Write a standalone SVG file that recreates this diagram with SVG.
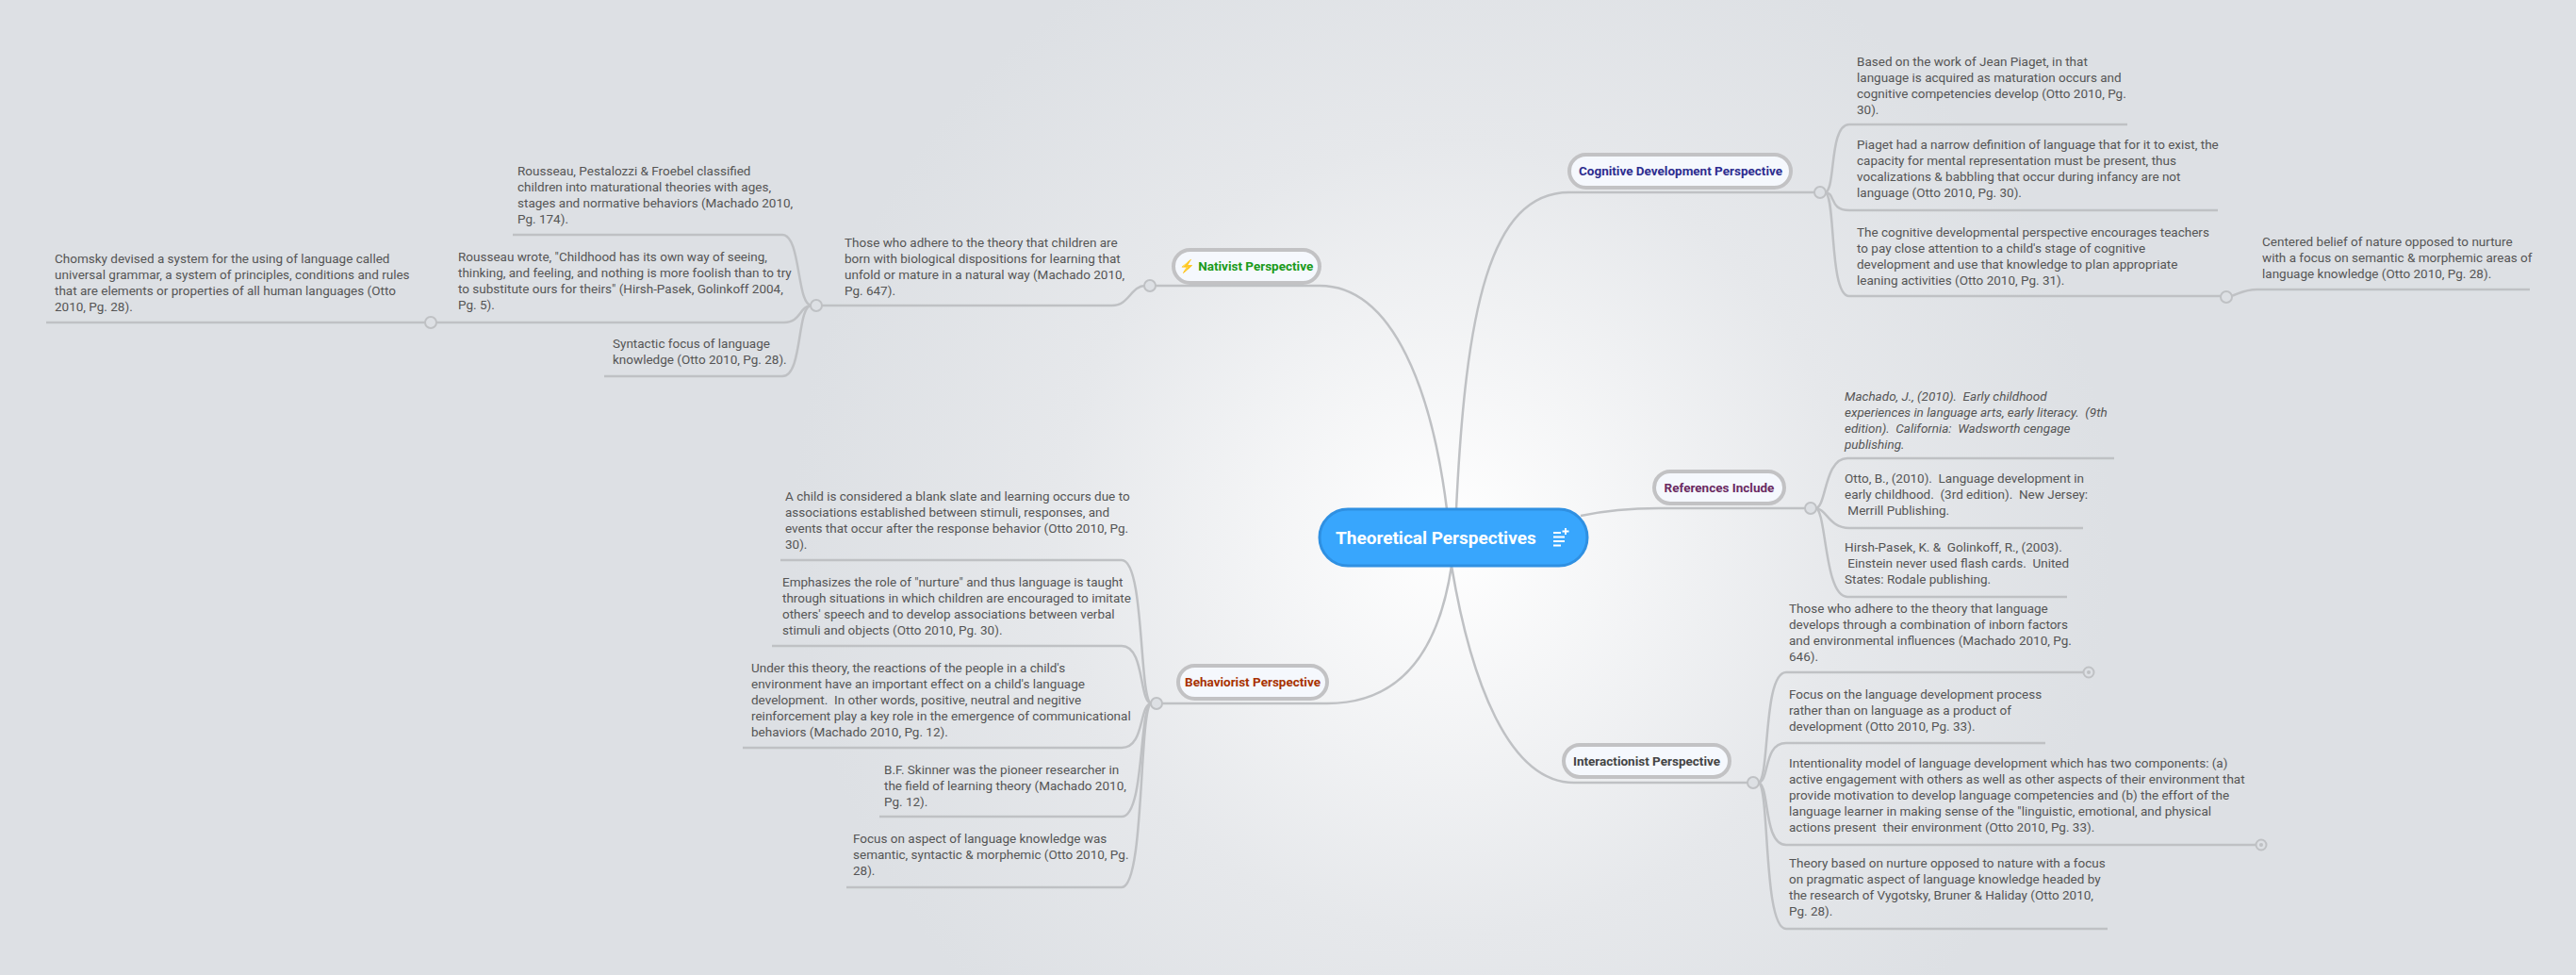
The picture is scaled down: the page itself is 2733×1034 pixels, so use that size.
<svg xmlns="http://www.w3.org/2000/svg" width="2733" height="1034" viewBox="0 0 2733 1034">
<defs>
<radialGradient id="bg" cx="1540" cy="570" r="700" gradientUnits="userSpaceOnUse">
<stop offset="0" stop-color="#ffffff"/><stop offset="0.6" stop-color="#e6e8eb"/><stop offset="1" stop-color="#dde0e4"/>
</radialGradient>
<style>
.c{fill:none;stroke:#bfc1c4;stroke-width:2.5}
.j{fill:#dde0e4;stroke:#bfc1c4;stroke-width:2}
.n{fill:#f5f8fd;stroke:#c2c2c4;stroke-width:4}
.nl{font-family:Roboto,"Liberation Sans",sans-serif;font-size:13.5px;font-weight:bold;text-anchor:middle}
.t{font-family:Roboto,"Liberation Sans",sans-serif;font-size:13.5px;fill:#555;white-space:pre}
.i{font-style:italic}
</style>
</defs>
<rect width="2733" height="1034" fill="#dde0e4"/>
<rect width="2733" height="1034" fill="url(#bg)"/>
<g id="connectors">
<path class="c" d="M1535,540 C1520,420 1480,303 1400,303 L1225,303"/>
<path class="c" d="M1215,303 C1200,303 1198,324 1180,324 L871,324"/>
<path class="c" d="M861,324 C845,324 850,249 830,249 L544,249"/>
<path class="c" d="M861,324 C848,324 850,342 832,342 L462,342"/>
<path class="c" d="M861,324 C845,324 852,399 830,399 L641,399"/>
<path class="c" d="M452,342 L49,342"/>
<path class="c" d="M1540,600 C1525,700 1480,746 1408,746 L1232,746"/>
<path class="c" d="M1222,746 C1208,746 1215,594 1190,594 L828,594"/>
<path class="c" d="M1222,746 C1208,746 1215,685 1190,685 L819,685"/>
<path class="c" d="M1222,746 C1208,746 1215,793 1190,793 L788,793"/>
<path class="c" d="M1222,746 C1208,746 1215,866 1190,866 L933,866"/>
<path class="c" d="M1222,746 C1208,746 1215,941 1190,941 L898,941"/>
<path class="c" d="M1545,540 C1555,330 1580,204 1665,204 L1926,204"/>
<path class="c" d="M1936,204 C1948,204 1940,132 1962,132 L2257,132"/>
<path class="c" d="M1936,204 C1948,204 1940,223 1962,223 L2353,223"/>
<path class="c" d="M1936,204 C1948,204 1940,314 1962,314 L2357,314"/>
<path class="c" d="M2367,314 C2375,312 2380,307 2395,307 L2684,307"/>
<path class="c" d="M1677,547 C1710,540 1740,539 1760,539 L1916,539"/>
<path class="c" d="M1926,539 C1938,539 1935,486 1960,486 L2243,486"/>
<path class="c" d="M1926,539 C1938,539 1940,560 1962,560 L2210,560"/>
<path class="c" d="M1926,539 C1938,539 1935,633 1960,633 L2193,633"/>
<path class="c" d="M1540,600 C1560,720 1600,830 1670,830 L1855,830"/>
<path class="c" d="M1865,830 C1878,830 1870,713 1895,713 L2211,713"/>
<path class="c" d="M1865,830 C1878,830 1870,788 1895,788 L2170,788"/>
<path class="c" d="M1865,830 C1878,830 1870,896 1895,896 L2394,896"/>
<path class="c" d="M1865,830 C1878,830 1870,985 1895,985 L2236,985"/>
<circle class="j" cx="1220" cy="303" r="6"/>
<circle class="j" cx="866" cy="324" r="6"/>
<circle class="j" cx="457" cy="342" r="6"/>
<circle class="j" cx="1227" cy="746" r="6"/>
<circle class="j" cx="1931" cy="204" r="6"/>
<circle class="j" cx="2362" cy="315" r="6"/>
<circle class="j" cx="1921" cy="539" r="6"/>
<circle class="j" cx="1860" cy="830" r="6"/>
<circle class="j" cx="2216" cy="713" r="5.5"/><circle cx="2216" cy="713" r="2" fill="#bfc1c4"/>
<circle class="j" cx="2399" cy="896" r="5.5"/><circle cx="2399" cy="896" r="2" fill="#bfc1c4"/>
</g>
<g id="center">
<rect x="1400" y="540" width="284" height="60" rx="30" fill="#38a6fd" stroke="#2f90e2" stroke-width="3"/>
<text x="1417" y="577" font-family="Roboto,'Liberation Sans',sans-serif" font-size="19" font-weight="bold" fill="#fff">Theoretical Perspectives</text>
<g stroke="#fff" stroke-width="1.8"><path d="M1648,565h8M1648,569.5h12M1648,574h12M1648,578.5h8M1661,560v7M1657.5,563.5h7"/></g>
</g>
<g id="nativist">
<rect class="n" x="1245" y="265" width="155" height="35" rx="17.5"/>
<text class="nl" x="1322" y="287" fill="#1a9a1a"><tspan fill="#f4b740">⚡</tspan> Nativist Perspective</text>
</g>
<g id="nativist-1"><text class="t" x="896"><tspan x="896" y="262">Those who adhere to the theory that children are</tspan><tspan x="896" y="279">born with biological dispositions for learning that</tspan><tspan x="896" y="296">unfold or mature in a natural way (Machado 2010,</tspan><tspan x="896" y="313">Pg. 647).</tspan></text></g>
<g id="nativist-2"><text class="t"><tspan x="549" y="186">Rousseau, Pestalozzi &amp; Froebel classified</tspan><tspan x="549" y="203">children into maturational theories with ages,</tspan><tspan x="549" y="220">stages and normative behaviors (Machado 2010,</tspan><tspan x="549" y="237">Pg. 174).</tspan></text></g>
<g id="nativist-3"><text class="t"><tspan x="486" y="277">Rousseau wrote, "Childhood has its own way of seeing,</tspan><tspan x="486" y="294">thinking, and feeling, and nothing is more foolish than to try</tspan><tspan x="486" y="311">to substitute ours for theirs" (Hirsh-Pasek, Golinkoff 2004,</tspan><tspan x="486" y="328">Pg. 5).</tspan></text></g>
<g id="nativist-4"><text class="t"><tspan x="650" y="369">Syntactic focus of language</tspan><tspan x="650" y="386">knowledge (Otto 2010, Pg. 28).</tspan></text></g>
<g id="nativist-5"><text class="t"><tspan x="58" y="279">Chomsky devised a system for the using of language called</tspan><tspan x="58" y="296">universal grammar, a system of principles, conditions and rules</tspan><tspan x="58" y="313">that are elements or properties of all human languages (Otto</tspan><tspan x="58" y="330">2010, Pg. 28).</tspan></text></g>
<g id="behaviorist">
<rect class="n" x="1250" y="706" width="158" height="35" rx="17.5"/>
<text class="nl" x="1329" y="728" fill="#a83200">Behaviorist Perspective</text>
</g>
<g id="behaviorist-1"><text class="t"><tspan x="833" y="531">A child is considered a blank slate and learning occurs due to</tspan><tspan x="833" y="548">associations established between stimuli, responses, and</tspan><tspan x="833" y="565">events that occur after the response behavior (Otto 2010, Pg.</tspan><tspan x="833" y="582">30).</tspan></text></g>
<g id="behaviorist-2"><text class="t"><tspan x="830" y="622">Emphasizes the role of "nurture" and thus language is taught</tspan><tspan x="830" y="639">through situations in which children are encouraged to imitate</tspan><tspan x="830" y="656">others' speech and to develop associations between verbal</tspan><tspan x="830" y="673">stimuli and objects (Otto 2010, Pg. 30).</tspan></text></g>
<g id="behaviorist-3"><text class="t"><tspan x="797" y="713">Under this theory, the reactions of the people in a child's</tspan><tspan x="797" y="730">environment have an important effect on a child's language</tspan><tspan x="797" y="747">development.  In other words, positive, neutral and negitive</tspan><tspan x="797" y="764">reinforcement play a key role in the emergence of communicational</tspan><tspan x="797" y="781">behaviors (Machado 2010, Pg. 12).</tspan></text></g>
<g id="behaviorist-4"><text class="t"><tspan x="938" y="821">B.F. Skinner was the pioneer researcher in</tspan><tspan x="938" y="838">the field of learning theory (Machado 2010,</tspan><tspan x="938" y="855">Pg. 12).</tspan></text></g>
<g id="behaviorist-5"><text class="t"><tspan x="905" y="894">Focus on aspect of language knowledge was</tspan><tspan x="905" y="911">semantic, syntactic &amp; morphemic (Otto 2010, Pg.</tspan><tspan x="905" y="928">28).</tspan></text></g>
<g id="cognitive">
<rect class="n" x="1665" y="164" width="235" height="35" rx="17.5"/>
<text class="nl" x="1783" y="186" fill="#2d2d8f">Cognitive Development Perspective</text>
</g>
<g id="cognitive-1"><text class="t"><tspan x="1970" y="70">Based on the work of Jean Piaget, in that</tspan><tspan x="1970" y="87">language is acquired as maturation occurs and</tspan><tspan x="1970" y="104">cognitive competencies develop (Otto 2010, Pg.</tspan><tspan x="1970" y="121">30).</tspan></text></g>
<g id="cognitive-2"><text class="t"><tspan x="1970" y="158">Piaget had a narrow definition of language that for it to exist, the</tspan><tspan x="1970" y="175">capacity for mental representation must be present, thus</tspan><tspan x="1970" y="192">vocalizations &amp; babbling that occur during infancy are not</tspan><tspan x="1970" y="209">language (Otto 2010, Pg. 30).</tspan></text></g>
<g id="cognitive-3"><text class="t"><tspan x="1970" y="251">The cognitive developmental perspective encourages teachers</tspan><tspan x="1970" y="268">to pay close attention to a child's stage of cognitive</tspan><tspan x="1970" y="285">development and use that knowledge to plan appropriate</tspan><tspan x="1970" y="302">leaning activities (Otto 2010, Pg. 31).</tspan></text></g>
<g id="cognitive-4"><text class="t"><tspan x="2400" y="261">Centered belief of nature opposed to nurture</tspan><tspan x="2400" y="278">with a focus on semantic &amp; morphemic areas of</tspan><tspan x="2400" y="295">language knowledge (Otto 2010, Pg. 28).</tspan></text></g>
<g id="references">
<rect class="n" x="1755" y="500" width="138" height="34" rx="17"/>
<text class="nl" x="1824" y="522" fill="#6a2a62">References Include</text>
</g>
<g id="references-1"><text class="t i"><tspan x="1957" y="425">Machado, J., (2010).  Early childhood</tspan><tspan x="1957" y="442">experiences in language arts, early literacy.  (9th</tspan><tspan x="1957" y="459">edition).  California:  Wadsworth cengage</tspan><tspan x="1957" y="476">publishing.</tspan></text></g>
<g id="references-2"><text class="t"><tspan x="1957" y="512">Otto, B., (2010).  Language development in</tspan><tspan x="1957" y="529">early childhood.  (3rd edition).  New Jersey:</tspan><tspan x="1957" y="546"> Merrill Publishing.</tspan></text></g>
<g id="references-3"><text class="t"><tspan x="1957" y="585">Hirsh-Pasek, K. &amp;  Golinkoff, R., (2003).</tspan><tspan x="1957" y="602"> Einstein never used flash cards.  United</tspan><tspan x="1957" y="619">States: Rodale publishing.</tspan></text></g>
<g id="interactionist">
<rect class="n" x="1659" y="790" width="176" height="34" rx="17"/>
<text class="nl" x="1747" y="812" fill="#444">Interactionist Perspective</text>
</g>
<g id="interactionist-1"><text class="t"><tspan x="1898" y="650">Those who adhere to the theory that language</tspan><tspan x="1898" y="667">develops through a combination of inborn factors</tspan><tspan x="1898" y="684">and environmental influences (Machado 2010, Pg.</tspan><tspan x="1898" y="701">646).</tspan></text></g>
<g id="interactionist-2"><text class="t"><tspan x="1898" y="741">Focus on the language development process</tspan><tspan x="1898" y="758">rather than on language as a product of</tspan><tspan x="1898" y="775">development (Otto 2010, Pg. 33).</tspan></text></g>
<g id="interactionist-3"><text class="t"><tspan x="1898" y="814">Intentionality model of language development which has two components: (a)</tspan><tspan x="1898" y="831">active engagement with others as well as other aspects of their environment that</tspan><tspan x="1898" y="848">provide motivation to develop language competencies and (b) the effort of the</tspan><tspan x="1898" y="865">language learner in making sense of the "linguistic, emotional, and physical</tspan><tspan x="1898" y="882">actions present  their environment (Otto 2010, Pg. 33).</tspan></text></g>
<g id="interactionist-4"><text class="t"><tspan x="1898" y="920">Theory based on nurture opposed to nature with a focus</tspan><tspan x="1898" y="937">on pragmatic aspect of language knowledge headed by</tspan><tspan x="1898" y="954">the research of Vygotsky, Bruner &amp; Haliday (Otto 2010,</tspan><tspan x="1898" y="971">Pg. 28).</tspan></text></g>
</svg>
